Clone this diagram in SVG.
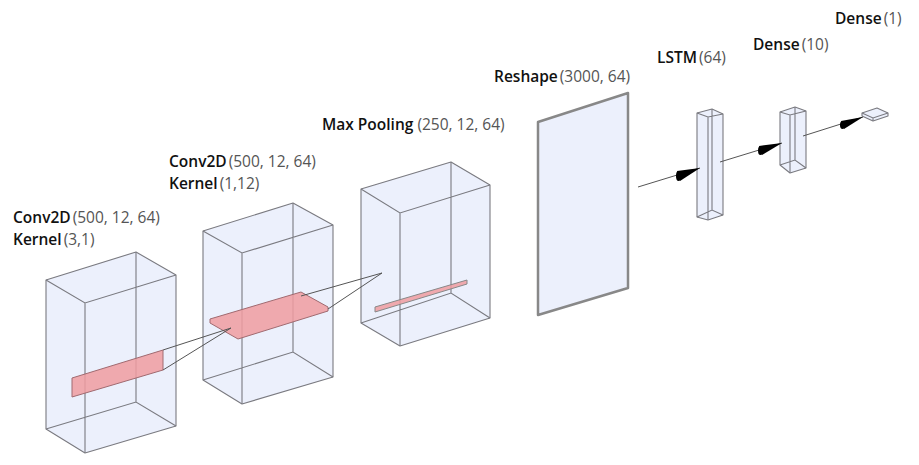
<svg xmlns="http://www.w3.org/2000/svg" width="919" height="465" viewBox="0 0 919 465">
<style>
.f{fill:#e6ebfb;fill-opacity:0.75;stroke:#7a7a80;stroke-width:1.1;stroke-linejoin:round}
.e{fill:none;stroke:#7a7a80;stroke-width:1.1}
.r{fill:#f09ca0;fill-opacity:0.85;stroke:#a06a70;stroke-width:1}
.c{stroke:#555;stroke-width:1;fill:none}
.k{fill:#000}
text{font-family:"Open Sans","Liberation Sans",Arial,sans-serif;font-size:15.5px}
.b{font-weight:600;fill:#111}
.n{fill:#555}
</style>
<rect width="919" height="465" fill="#fff"/>
<g id="conv1">
<polygon class="f" points="46,280 136,252 176,275 176,426 85,453 46,429"/>
<path class="e" d="M136,252V402M46,429L136,402L176,426M46,280L85,303L176,275M85,303V453"/>
<polygon class="r" points="72,378 163,350 163,370 72,397"/>
<text x="13" y="223"><tspan class="b">Conv2D</tspan><tspan class="n" dx="2">(500, 12, 64)</tspan></text>
<text x="13" y="245"><tspan class="b">Kernel</tspan><tspan class="n" dx="2">(3,1)</tspan></text>
</g>
<g id="conv2">
<polygon class="f" points="203,231 293,203 333,225 333,377 242,404 203,380"/>
<path class="e" d="M293,203V352M203,380L293,352L333,377M203,231L242,253L333,225M242,253V404"/>
<polygon class="r" points="210,319 301,292 328,307 328,311 238,339 210,323"/>
<text x="169" y="167"><tspan class="b">Conv2D</tspan><tspan class="n" dx="2">(500, 12, 64)</tspan></text>
<text x="169" y="189"><tspan class="b">Kernel</tspan><tspan class="n" dx="2">(1,12)</tspan></text>
</g>
<g id="maxpool">
<polygon class="f" points="361,189 451,162 490,185 490,318 400,346 361,323"/>
<path class="e" d="M451,162V293M361,323L451,293L490,318M361,189L400,213L490,185M400,213V346"/>
<polygon class="r" points="375,307 467,280 467,284 375,312" style="stroke:#888"/>
<text x="322" y="130"><tspan class="b">Max Pooling</tspan><tspan class="n"> (250, 12, 64)</tspan></text>
</g>
<g id="reshape">
<polygon class="f" points="538,122 628,93 628,288 538,315" style="stroke:#888;stroke-width:2.5"/>
<text x="494" y="82"><tspan class="b">Reshape</tspan><tspan class="n" dx="2">(3000, 64)</tspan></text>
</g>
<g id="lstm">
<polygon class="f" points="697,113 712,109 723,114 723,215 708,220 697,217"/>
<path class="e" d="M712,109V210M697,217L712,210L723,215M697,113L708,117L723,114M708,117V220"/>
<text x="657" y="63"><tspan class="b">LSTM</tspan><tspan class="n" dx="2">(64)</tspan></text>
</g>
<g id="dense10">
<polygon class="f" points="780,112 795,107 806,111 806,168 790,173 780,165"/>
<path class="e" d="M795,107V160M780,165L795,160L806,168M780,112L790,115L806,111M790,115V173"/>
<text x="753" y="50"><tspan class="b">Dense</tspan><tspan class="n" dx="2">(10)</tspan></text>
</g>
<g id="dense1">
<polygon class="f" points="862,113 877,108 888,113 888,116 873,121 862,116"/>
<path class="e" d="M862,113L873,118L888,113M873,118V121"/>
<text x="835" y="24"><tspan class="b">Dense</tspan><tspan class="n" dx="2">(1)</tspan></text>
</g>
<g id="connectors">
<path class="c" d="M163,350L231,328M163,370L231,328"/>
<path class="c" d="M301,296L382,273M328,309L382,273"/>
<path class="c" d="M638,187L700,168"/>
<polygon class="k" points="677,171 700,168 680,181"/>
<ellipse class="k" cx="678.5" cy="176" rx="2.5" ry="5"/>
<path class="c" d="M720,162L782,143"/>
<polygon class="k" points="759,146 782,143 762,155"/>
<ellipse class="k" cx="760.5" cy="150.5" rx="2.5" ry="4.5"/>
<path class="c" d="M803,136L863,117"/>
<polygon class="k" points="841,121 863,117 844,129"/>
<ellipse class="k" cx="842.5" cy="125" rx="2.5" ry="4"/>
</g>
</svg>
